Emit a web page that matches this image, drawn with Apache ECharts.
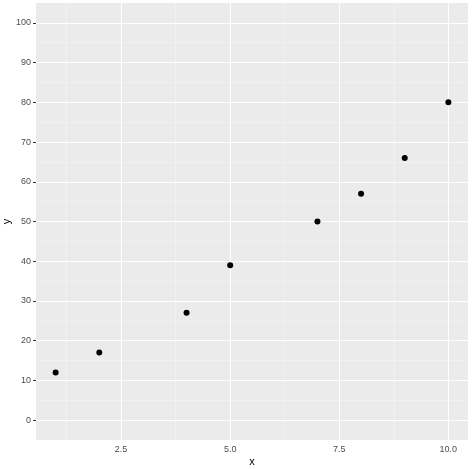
<!DOCTYPE html>
<html>
<head>
<meta charset="utf-8">
<script src="https://cdn.jsdelivr.net/npm/echarts@6/dist/echarts.min.js"></script>
<style>html,body{margin:0;padding:0;background:#fff}#c{width:474px;height:469px}</style>
</head>
<body>
<div id="c"></div>
<script>
const xValues = [1, 2, 4, 5, 7, 8, 9, 10];
const yValues = [12, 17, 27, 39, 50, 57, 66, 80];
const xTicks = [2.5, 5.0, 7.5, 10.0];
const xMinor = [1.25, 3.75, 6.25, 8.75];
const yTicks = [0, 10, 20, 30, 40, 50, 60, 70, 80, 90, 100];
const yMinor = [5, 15, 25, 35, 45, 55, 65, 75, 85, 95];

const chart = echarts.init(document.getElementById('c'));
const font = 'Liberation Sans, Arial, sans-serif';
const major = {color: '#FFFFFF', width: 1.1, type: 'solid'};
const minor = {color: '#F5F5F5', width: 0.6, type: 'solid'};
const gridLines = []
  .concat(xMinor.map(v => ({xAxis: v, lineStyle: minor})))
  .concat(yMinor.map(v => ({yAxis: v, lineStyle: minor})))
  .concat(xTicks.map(v => ({xAxis: v, lineStyle: major})))
  .concat(yTicks.map(v => ({yAxis: v, lineStyle: major})));

chart.setOption({
  animation: false,
  backgroundColor: '#FFFFFF',
  grid: {left: 36, right: 6, top: 3, bottom: 29, show: true, backgroundColor: '#EBEBEB', borderWidth: 0,
    containLabel: false, outerBoundsMode: 'none'},
  xAxis: {
    type: 'value', min: 0.55, max: 10.45,
    name: 'x', nameLocation: 'middle', nameGap: 16, nameMoveOverlap: false,
    nameTextStyle: {color: '#000', fontSize: 11, fontFamily: font},
    axisLine: {show: false},
    axisTick: {show: true, length: 3, customValues: xTicks, lineStyle: {color: '#333', width: 1}},
    axisLabel: {customValues: xTicks, color: '#4D4D4D', fontSize: 9, fontFamily: font, margin: 5,
      formatter: v => v.toFixed(1)},
    splitLine: {show: false}
  },
  yAxis: {
    type: 'value', min: -5, max: 105,
    name: 'y', nameLocation: 'middle', nameGap: 24, nameRotate: 90, nameMoveOverlap: false,
    nameTextStyle: {color: '#000', fontSize: 11, fontFamily: font},
    axisLine: {show: false},
    axisTick: {show: true, length: 3, customValues: yTicks, lineStyle: {color: '#333', width: 1}},
    axisLabel: {customValues: yTicks, color: '#4D4D4D', fontSize: 9, fontFamily: font, margin: 5},
    splitLine: {show: false}
  },
  series: [{
    type: 'scatter',
    data: xValues.map((x, i) => [x, yValues[i]]),
    symbolSize: 6,
    itemStyle: {color: '#000000', opacity: 1},
    z: 3,
    markLine: {
      silent: true, symbol: ['none', 'none'], z: 1,
      label: {show: false},
      emphasis: {disabled: true},
      data: gridLines
    }
  }]
});
</script>
</body>
</html>
